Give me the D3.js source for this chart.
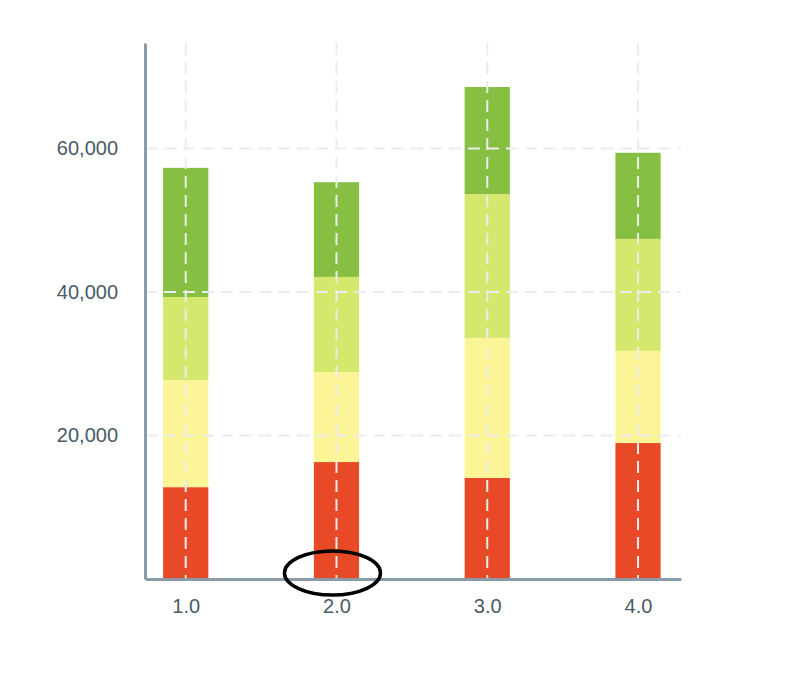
<!DOCTYPE html>
<html><head><meta charset="utf-8">
<script src="https://cdn.jsdelivr.net/npm/d3@7"></script>
<style>body{margin:0;background:#fff}text{font-family:"Helvetica Neue",Arial,"Liberation Sans",sans-serif}</style>
</head><body><div id="chart"></div>
<script>
// stacked values per category
var categories = [1, 2, 3, 4];
var seriesRed = [12800, 16300, 14100, 18950];
var seriesYellow = [14900, 12550, 19500, 12850];
var seriesLight = [11600, 13250, 20050, 15600];
var seriesGreen = [18000, 13200, 14920, 12000];
var colors = ["#e84a27", "#fbf597", "#d6e76e", "#86bf41"];
var yTicks = [20000, 40000, 60000];

var svgWidth = 805, svgHeight = 677;
var margin = {top: 43, left: 145, right: 124, bottom: 98};
var width = svgWidth - margin.left - margin.right;
var height = svgHeight - margin.top - margin.bottom;

var svg = d3.select("#chart").append("svg")
    .attr("width", svgWidth).attr("height", svgHeight);
var g = svg.append("g").attr("transform", `translate(${margin.left},${margin.top})`);

var x = d3.scaleLinear().domain([0.73, 4.285]).range([0, width]);
var y = d3.scaleLinear().domain([0, 74700]).range([height, 0]);

var table = categories.map((c, i) => ({cat: c, a: seriesRed[i], b: seriesYellow[i], c2: seriesLight[i], d: seriesGreen[i]}));
var stack = d3.stack().keys(["a", "b", "c2", "d"])(table);
var bw = x(1.3) - x(1);

stack.forEach(function(layer, k) {
    g.selectAll(null).data(layer).enter().append("rect")
        .attr("x", d => x(d.data.cat) - bw / 2)
        .attr("width", bw)
        .attr("y", d => y(d[1]))
        .attr("height", d => y(d[0]) - y(d[1]))
        .attr("fill", colors[k]);
});

// grid on top
g.selectAll(null).data(yTicks).enter().append("line")
    .attr("x1", 0).attr("x2", width)
    .attr("y1", d => y(d)).attr("y2", d => y(d))
    .attr("stroke", "#ececec").attr("stroke-width", 2).attr("stroke-dasharray", "12,7");
g.selectAll(null).data(categories).enter().append("line")
    .attr("y1", 0).attr("y2", height)
    .attr("x1", d => x(d)).attr("x2", d => x(d))
    .attr("stroke", "#ececec").attr("stroke-width", 2).attr("stroke-dasharray", "12,7");

var xAxis = g.append("g").attr("transform", `translate(0,${height})`)
    .call(d3.axisBottom(x).tickValues(categories).tickFormat(d3.format(".1f")).tickSize(0).tickPadding(20));
var yAxis = g.append("g")
    .call(d3.axisLeft(y).tickValues(yTicks).tickFormat(d3.format(",")).tickSize(0).tickPadding(27));
[xAxis, yAxis].forEach(function(a) {
    a.select(".domain").attr("stroke", "#8a9aa6").attr("stroke-width", 3);
    a.selectAll("text").attr("font-size", 20).attr("fill", "#4a5a66");
});

// annotation ellipse
g.append("ellipse").attr("cx", x(2) - 4).attr("cy", height - 6)
    .attr("rx", 48).attr("ry", 22)
    .attr("fill", "none").attr("stroke", "#000").attr("stroke-width", 3.5);
</script></body></html>
